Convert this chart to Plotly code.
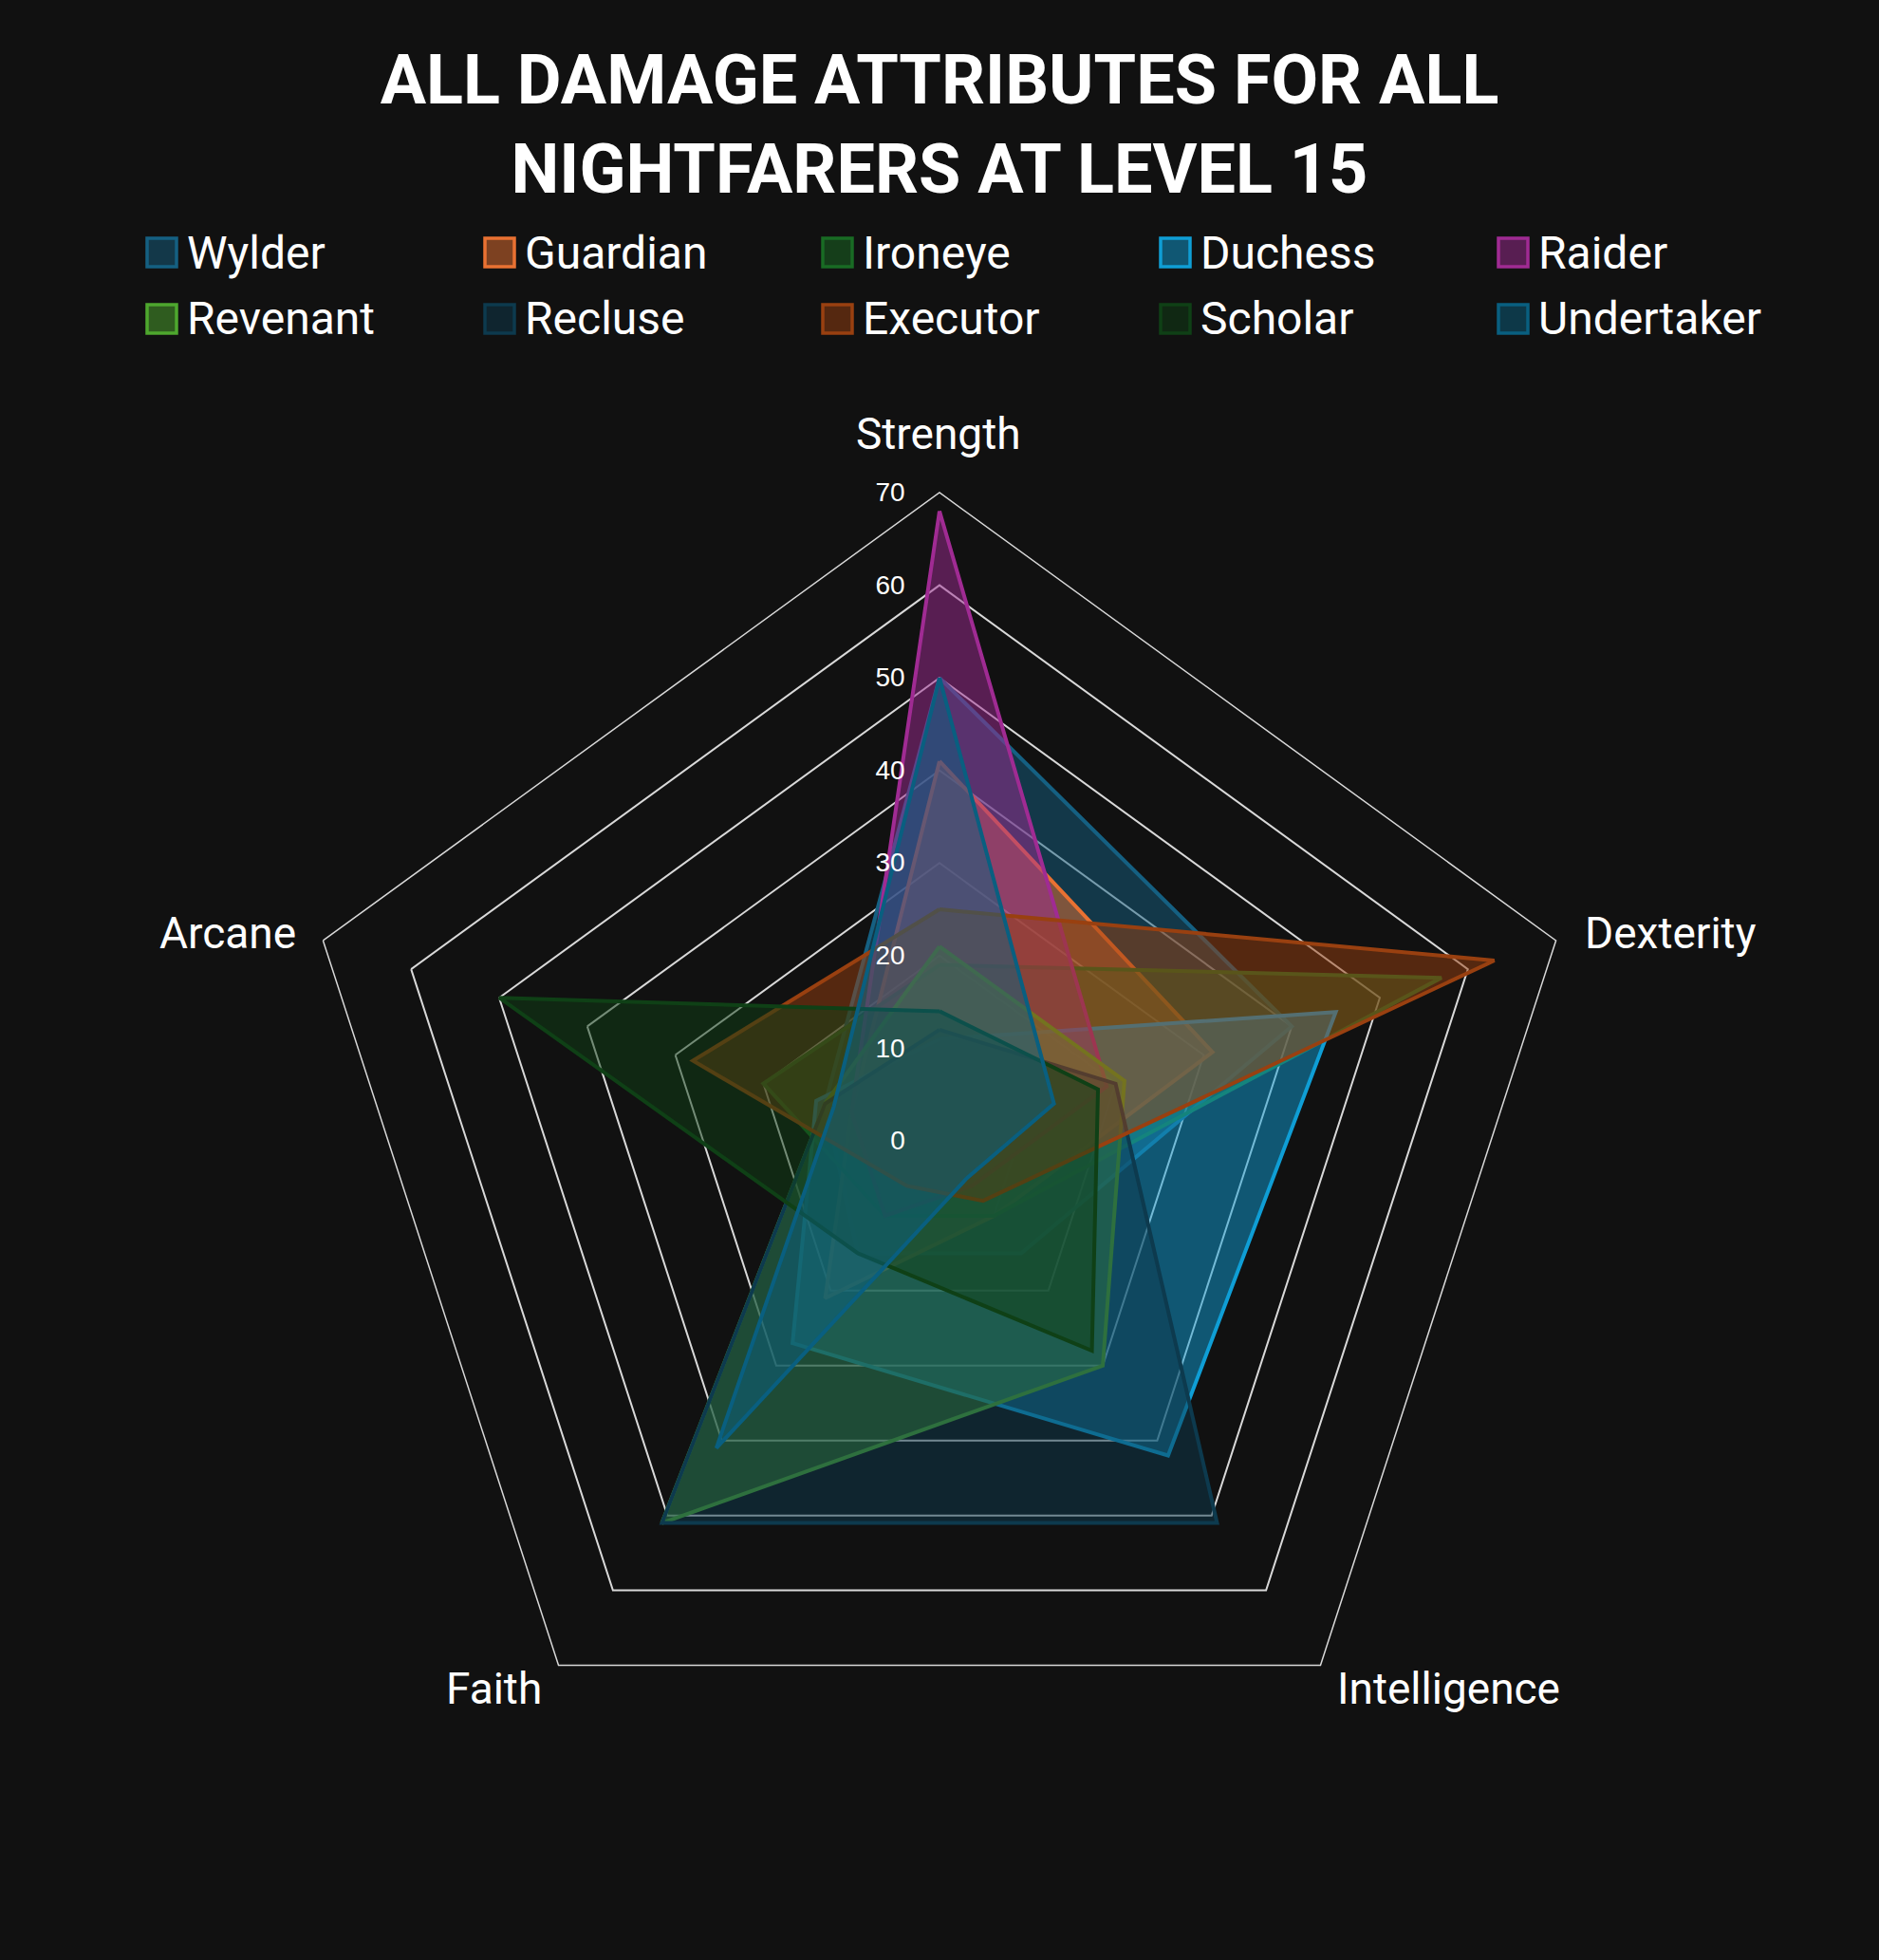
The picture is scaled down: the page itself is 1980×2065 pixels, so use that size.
import math
import plotly.graph_objects as go

# Level 15 damage attributes
attributes = ["Strength", "Dexterity", "Intelligence", "Faith", "Arcane"]
nightfarers = ["Wylder", "Guardian", "Ironeye", "Duchess", "Raider",
               "Revenant", "Recluse", "Executor", "Scholar", "Undertaker"]

strength = [50, 41, 19, 11, 68, 21, 12, 25, 14, 50]
dexterity = [40, 31, 57, 45, 19, 21, 20, 63, 18, 13]
intelligence = [15, 10, 10, 42, 6, 30, 51, 8, 28, 5]
faith = [15, 21, 10, 27, 10, 51, 51, 6, 15, 41]
arcane = [13, 10, 20, 14, 10, 13, 13, 28, 50, 12]

radial_ticks = [0, 10, 20, 30, 40, 50, 60, 70]

# Office theme accents, the last four are the 'darker' variants
colors = ["#156082", "#E97132", "#196B24", "#0F9ED5", "#A02B93",
          "#4EA72E", "#0D3A4E", "#994010", "#0F4016", "#095F80"]

BG = "#111111"
FONT = "Roboto"

# figure / plot area geometry (pixels)
W, H = 1980, 2065
ML, MR, MT, MB = 100, 100, 100, 100
PW, PH = W - ML - MR, H - MT - MB
CX, CY, R = 990, 1202, 683   # polar centre and outer radius


def px(x):
    return (x - ML) / PW


def py(y):
    return (H - MB - y) / PH


def rgba(hex_color, alpha):
    h = hex_color.lstrip("#")
    r, g, b = int(h[0:2], 16), int(h[2:4], 16), int(h[4:6], 16)
    return f"rgba({r},{g},{b},{alpha})"


fig = go.Figure()

for i, name in enumerate(nightfarers):
    values = [strength[i], dexterity[i], intelligence[i], faith[i], arcane[i]]
    fig.add_trace(go.Scatterpolar(
        r=values + [values[0]],
        theta=attributes + [attributes[0]],
        mode="lines",
        fill="toself",
        fillcolor=rgba(colors[i], 0.5),
        line=dict(color=colors[i], width=4),
        name=name,
        showlegend=False,
    ))

# legend: 2 rows x 5 columns of square keys
shapes = []
annotations = []
for i, name in enumerate(nightfarers):
    row, col = divmod(i, 5)
    x0 = 155 + col * 356
    yc = 266 + row * 70
    shapes.append(dict(
        type="rect", xref="paper", yref="paper",
        x0=px(x0), x1=px(x0 + 31), y0=py(yc + 15), y1=py(yc - 15),
        fillcolor=rgba(colors[i], 0.5),
        line=dict(color=colors[i], width=3.5),
    ))
    annotations.append(dict(
        text=name, xref="paper", yref="paper",
        x=px(x0 + 40), y=py(yc), xanchor="left", yanchor="middle",
        showarrow=False, font=dict(size=48, family=FONT, color="white"),
    ))

# category labels around the pentagon
label_offsets = {
    "Strength": (-1, -62, "center"),
    "Dexterity": (28, -8, "left"),
    "Intelligence": (16, 24, "left"),
    "Faith": (-16, 24, "right"),
    "Arcane": (-26, -8, "right"),
}
for k, att in enumerate(attributes):
    ang = math.radians(90 - 72 * k)
    vx = CX + R * math.cos(ang)
    vy = CY - R * math.sin(ang)
    dx, dy, anchor = label_offsets[att]
    annotations.append(dict(
        text=att, xref="paper", yref="paper",
        x=px(vx + dx), y=py(vy + dy), xanchor=anchor, yanchor="middle",
        showarrow=False, font=dict(size=46, family=FONT, color="white"),
    ))

fig.update_layout(
    width=W,
    height=H,
    paper_bgcolor=BG,
    plot_bgcolor=BG,
    margin=dict(l=ML, r=MR, t=MT, b=MB),
    font=dict(family=FONT, color="white"),
    showlegend=False,
    title=dict(
        text="ALL DAMAGE ATTRIBUTES FOR ALL<br>NIGHTFARERS AT LEVEL 15",
        x=0.5, xanchor="center",
        y=0.947, yanchor="top",
        font=dict(size=72, family=FONT, weight="bold", color="white"),
    ),
    shapes=shapes,
    annotations=annotations,
    polar=dict(
        bgcolor=BG,
        gridshape="linear",
        domain=dict(x=[px(CX - R), px(CX + R)], y=[py(CY + R), py(CY - R)]),
        radialaxis=dict(
            range=[0, 70],
            tickvals=radial_ticks,
            angle=90,
            tickangle=90,
            side="counterclockwise",
            showline=False,
            ticks="outside",
            ticklen=26,
            tickcolor="rgba(0,0,0,0)",
            showgrid=True,
            gridcolor="#d9d9d9",
            gridwidth=1.5,
            tickfont=dict(size=28, family="Liberation Sans", color="white"),
        ),
        angularaxis=dict(
            rotation=90,
            direction="clockwise",
            showgrid=False,
            showline=True,
            linecolor="#d9d9d9",
            linewidth=1.5,
            showticklabels=False,
            ticks="",
        ),
    ),
)

# drop the default page margin so the dark chart fills the window
fig.write_html(
    "out.html",
    config={"displayModeBar": False},
    post_script="document.body.style.margin='0';document.body.style.background='#111111';",
)
